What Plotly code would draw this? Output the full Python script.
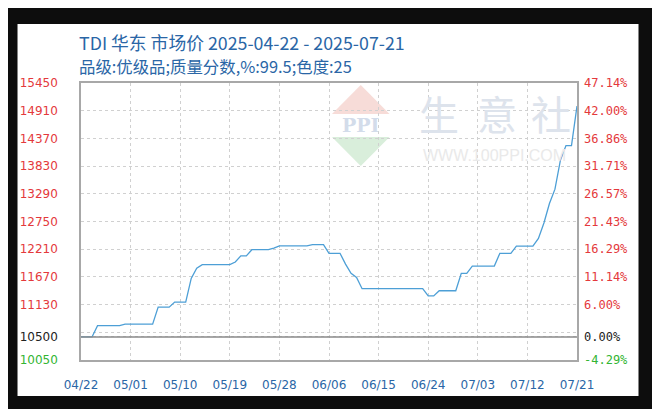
import pandas as pd
import plotly.graph_objects as go

# ---------------- data ----------------
start_date = "2025-04-22"
prices = [
    10500, 10500, 10500, 10720, 10720, 10720, 10720, 10720, 10750, 10750,
    10750, 10750, 10750, 10750, 11080, 11080, 11080, 11180, 11180, 11180,
    11640, 11840, 11910, 11910, 11910, 11910, 11910, 11910, 11960, 12080,
    12080, 12200, 12200, 12200, 12200, 12230, 12275, 12275, 12275, 12275,
    12275, 12275, 12300, 12300, 12300, 12130, 12130, 12130, 11920, 11740,
    11660, 11440, 11440, 11440, 11440, 11440, 11440, 11440, 11440, 11440,
    11440, 11440, 11440, 11300, 11300, 11400, 11400, 11400, 11400, 11740,
    11740, 11880, 11880, 11880, 11880, 11880, 12130, 12130, 12130, 12270,
    12270, 12270, 12270, 12420, 12720, 13100, 13380, 13950, 14230, 14230,
    15000,
]
dates = pd.date_range(start_date, periods=len(prices), freq="D")

base_price = 10500
y_min, y_max = 10050, 15450
left_tickvals = [10050, 10500, 10590, 11130, 11670, 12210, 12750, 13290, 13830, 14370, 14910, 15450]
left_ticktext = ["10050", "10500", "", "11130", "11670", "12210", "12750", "13290", "13830", "14370", "14910", "15450"]
right_ticktext = ["-4.29%", "0.00%", "", "6.00%", "11.14%", "16.29%", "21.43%", "26.57%", "31.71%", "36.86%", "42.00%", "47.14%"]
x_tickvals = ["2025-04-22", "2025-05-01", "2025-05-10", "2025-05-19", "2025-05-28", "2025-06-06",
              "2025-06-15", "2025-06-24", "2025-07-03", "2025-07-12", "2025-07-21"]
x_ticktext = ["04/22", "05/01", "05/10", "05/19", "05/28", "06/06", "06/15", "06/24", "07/03", "07/12", "07/21"]

title_text = "TDI 华东 市场价 2025-04-22 - 2025-07-21"
subtitle_text = "品级:优级品;质量分数,%:99.5;色度:25"

# ---------------- style ----------------
RED = "#e4393c"
GREEN = "#33b533"
DARK = "#222222"
BLUE_TXT = "#2a66a6"
LINE = "#4d9fd6"


def colour_for(v):
    if v < base_price:
        return GREEN
    if v == base_price:
        return DARK
    return RED


left_labels = [f"<span style='color:{colour_for(v)}'>{t}</span>" if t else "" for v, t in zip(left_tickvals, left_ticktext)]
right_labels = [f"<span style='color:{colour_for(v)}'>{t}</span>" if t else "" for v, t in zip(left_tickvals, right_ticktext)]

# page offset compensation (page body margin) and target plot box on screen
OFF = 8
SL, SR, ST, SB = 77, 577, 83, 360          # plot area as seen on screen
PL, PR, PT, PB = SL - OFF, SR - OFF, ST - OFF, SB - OFF   # in figure coordinates


def px(x):
    return (x - OFF - PL) / (PR - PL)


def py(y):
    return (PB - (y - OFF)) / (PB - PT)


fig = go.Figure()
fig.add_trace(go.Scatter(x=dates, y=prices, mode="lines",
                         line=dict(color=LINE, width=1.3), hoverinfo="x+y", showlegend=False))
fig.add_trace(go.Scatter(x=dates, y=prices, mode="lines", yaxis="y2",
                         line=dict(color="rgba(0,0,0,0)", width=0), hoverinfo="skip", showlegend=False))

shapes = [
    # white panel
    dict(type="rect", xref="paper", yref="paper", x0=px(13), x1=px(639), y0=py(396), y1=py(24),
         fillcolor="white", line=dict(width=0), layer="below"),
    # watermark logo
    dict(type="path", xref="paper", yref="paper",
         path=f"M {px(359)} {py(85)} L {px(388)} {py(114)} L {px(330)} {py(114)} Z",
         fillcolor="#f7dcd8", line=dict(width=0), layer="below"),
    dict(type="path", xref="paper", yref="paper",
         path=f"M {px(330)} {py(137)} L {px(388)} {py(137)} L {px(359)} {py(166)} Z",
         fillcolor="#d9eedb", line=dict(width=0), layer="below"),
    # base line at 0.00%
    dict(type="line", xref="paper", yref="y", x0=0, x1=1, y0=base_price, y1=base_price,
         line=dict(color="#8a8a8a", width=1.5)),
]

annotations = [
    dict(text=title_text, xref="paper", yref="paper", x=px(73), y=py(42), xanchor="left", yanchor="middle",
         showarrow=False, font=dict(family="Noto Sans CJK SC", size=17.8, color=BLUE_TXT)),
    dict(text=subtitle_text, xref="paper", yref="paper", x=px(73), y=py(66), xanchor="left", yanchor="middle",
         showarrow=False, font=dict(family="Noto Sans CJK SC", size=16.4, color=BLUE_TXT)),
    dict(text="<b>PPI</b>", xref="paper", yref="paper", x=px(359), y=py(125), xanchor="center", yanchor="middle",
         showarrow=False, font=dict(family="DejaVu Serif", size=19, color="#d3dcea")),
    dict(text="WWW.100PPI.COM", xref="paper", yref="paper", x=px(494), y=py(155), xanchor="center", yanchor="middle",
         showarrow=False, font=dict(family="Liberation Sans", size=16, color="#e9e9e9")),
]
for ch, cx in zip(["生", "意", "社"], [438, 496, 551]):
    annotations.append(dict(text=ch, xref="paper", yref="paper", x=px(cx), y=py(113), xanchor="center",
                            yanchor="middle", showarrow=False,
                            font=dict(family="Noto Sans CJK SC", size=40, color="#dde3ec")))

fig.update_layout(
    width=660, height=409,
    margin=dict(l=PL, r=660 - PR, t=PT, b=409 - PB),
    paper_bgcolor="#0d0d0d", plot_bgcolor="white",
    shapes=shapes, annotations=annotations,
    xaxis=dict(type="date", range=[dates[0], dates[-1]], tickvals=x_tickvals, ticktext=x_ticktext,
               showgrid=True, gridcolor="#d0d0d0", griddash="dot", gridwidth=1,
               showline=True, mirror=True, linecolor="#a8a8a8", linewidth=1.5,
               ticks="", ticklabelstandoff=13,
               tickfont=dict(family="DejaVu Sans", size=12, color=BLUE_TXT), zeroline=False),
    yaxis=dict(range=[y_min, y_max], tickvals=left_tickvals, ticktext=left_labels,
               showgrid=True, gridcolor="#d0d0d0", griddash="dot", gridwidth=1,
               showline=True, mirror=True, linecolor="#a8a8a8", linewidth=1.5,
               ticks="", ticklabelstandoff=19, zeroline=False,
               tickfont=dict(family="DejaVu Sans", size=12, color=RED)),
    yaxis2=dict(range=[y_min, y_max], tickvals=left_tickvals, ticktext=right_labels,
                overlaying="y", side="right", showgrid=False, zeroline=False, showline=False,
                ticks="", ticklabelstandoff=6,
                tickfont=dict(family="DejaVu Sans Mono", size=12, color=RED)),
)

fig.write_html("out.html")
